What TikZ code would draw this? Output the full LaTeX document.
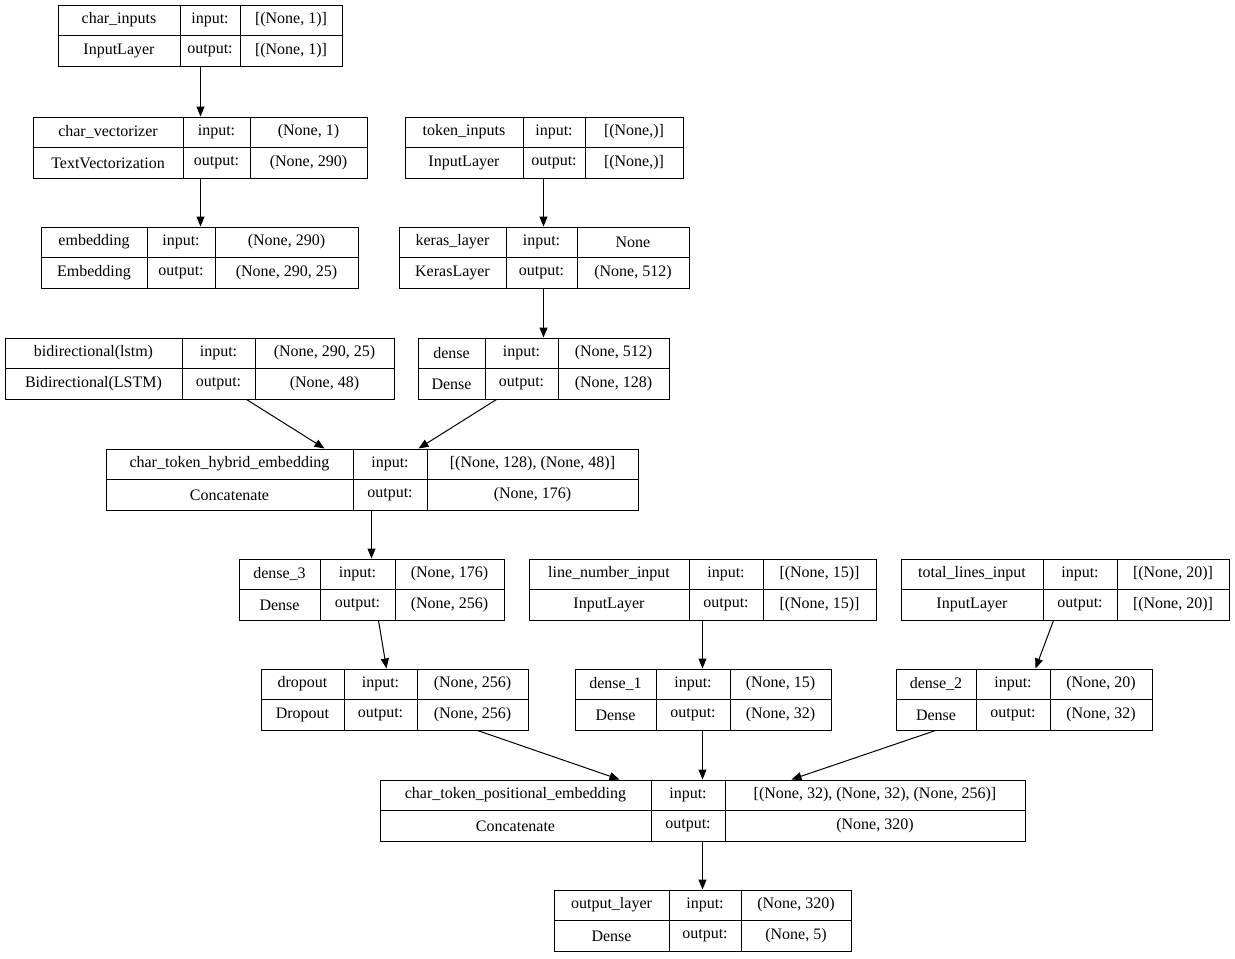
\documentclass[tikz,border=0pt]{standalone}
\usepackage{fontspec}
\setmainfont{Liberation Serif}
\usetikzlibrary{arrows.meta,fit}
\def\kbox#1#2#3#4#5#6#7{\def\kn{#1}\def\kxa{#2}\def\kxb{#3}\def\kxc{#4}\def\kxd{#5}\def\ky{#6}\def\kta{#7}\kboxB}
\def\kboxB#1#2#3{%
  \node[box,fit={(\kxa,\ky)(\kxd,\ky+61)}] (\kn) {};
  \draw[thin line] (\kxa,\ky+30.5) -- (\kxd,\ky+30.5);
  \draw[thin line] (\kxb,\ky) -- (\kxb,\ky+61) (\kxc,\ky) -- (\kxc,\ky+61);
  \node[lbl] at ({(\kxa+\kxb)/2},\ky+15) {\kta};
  \node[lbl] at ({(\kxa+\kxb)/2},\ky+46) {#1};
  \node[lbl] at ({(\kxb+\kxc)/2},\ky+15) {input:};
  \node[lbl] at ({(\kxb+\kxc)/2},\ky+46) {output:};
  \node[lbl] at ({(\kxc+\kxd)/2},\ky+15) {#2};
  \node[lbl] at ({(\kxc+\kxd)/2},\ky+46) {#3};
}
\begin{document}
\begin{tikzpicture}[x=1pt,y=-1pt,
  box/.style={draw,line width=1pt,inner sep=0pt},
  thin line/.style={line width=1pt},
  lbl/.style={inner sep=0pt,font=\fontsize{16}{19}\selectfont},
  arr/.style={line width=1pt,-{Triangle[length=10pt,width=8pt]}}]
\useasboundingbox (0,0) rectangle (1235,959);
\kbox{ci}{58}{180}{240}{342}{5}{char\_inputs}{InputLayer}{[(None, 1)]}{[(None, 1)]}
\kbox{cv}{33}{183}{250}{367}{117}{char\_vectorizer}{TextVectorization}{(None, 1)}{(None, 290)}
\kbox{ti}{405}{523}{585}{683}{117}{token\_inputs}{InputLayer}{[(None,)]}{[(None,)]}
\kbox{emb}{41}{147}{215}{358}{227}{embedding}{Embedding}{(None, 290)}{(None, 290, 25)}
\kbox{kl}{399}{506}{577}{689}{227}{keras\_layer}{KerasLayer}{None}{(None, 512)}
\kbox{bi}{5}{182}{255}{394}{338}{bidirectional(lstm)}{Bidirectional(LSTM)}{(None, 290, 25)}{(None, 48)}
\kbox{de}{418}{485}{558}{669}{338}{dense}{Dense}{(None, 512)}{(None, 128)}
\kbox{hyb}{106}{353}{427}{638}{449}{char\_token\_hybrid\_embedding}{Concatenate}{[(None, 128), (None, 48)]}{(None, 176)}
\kbox{d3}{239}{320}{395}{504}{559}{dense\_3}{Dense}{(None, 176)}{(None, 256)}
\kbox{ln}{529}{689}{763}{876}{559}{line\_number\_input}{InputLayer}{[(None, 15)]}{[(None, 15)]}
\kbox{tl}{901}{1043}{1117}{1229}{559}{total\_lines\_input}{InputLayer}{[(None, 20)]}{[(None, 20)]}
\kbox{dr}{261}{344}{417}{528}{669}{dropout}{Dropout}{(None, 256)}{(None, 256)}
\kbox{d1}{575}{656}{730}{831}{669}{dense\_1}{Dense}{(None, 15)}{(None, 32)}
\kbox{d2}{896}{976}{1050}{1152}{669}{dense\_2}{Dense}{(None, 20)}{(None, 32)}
\kbox{pos}{380}{651}{725}{1025}{780}{char\_token\_positional\_embedding}{Concatenate}{[(None, 32), (None, 32), (None, 256)]}{(None, 320)}
\kbox{out}{554}{669}{741}{851}{890}{output\_layer}{Dense}{(None, 320)}{(None, 5)}
\draw[arr] ([xshift=143pt]ci.south west) -- ([xshift=168pt]cv.north west);
\draw[arr] ([xshift=168pt]cv.south west) -- ([xshift=160pt]emb.north west);
\draw[arr] ([xshift=139pt]ti.south west) -- ([xshift=145pt]kl.north west);
\draw[arr] ([xshift=145pt]kl.south west) -- ([xshift=126pt]de.north west);
\draw[arr] ([xshift=242pt]bi.south west) -- ([xshift=219pt]hyb.north west);
\draw[arr] ([xshift=79pt]de.south west) -- ([xshift=313pt]hyb.north west);
\draw[arr] ([xshift=266pt]hyb.south west) -- ([xshift=133pt]d3.north west);
\draw[arr] ([xshift=140pt]d3.south west) -- ([xshift=126pt]dr.north west);
\draw[arr] ([xshift=174pt]ln.south west) -- ([xshift=128pt]d1.north west);
\draw[arr] ([xshift=153pt]tl.south west) -- ([xshift=140pt]d2.north west);
\draw[arr] ([xshift=217pt]dr.south west) -- ([xshift=240pt]pos.north west);
\draw[arr] ([xshift=128pt]d1.south west) -- ([xshift=323pt]pos.north west);
\draw[arr] ([xshift=40pt]d2.south west) -- ([xshift=412pt]pos.north west);
\draw[arr] ([xshift=323pt]pos.south west) -- ([xshift=149pt]out.north west);
\end{tikzpicture}
\end{document}
